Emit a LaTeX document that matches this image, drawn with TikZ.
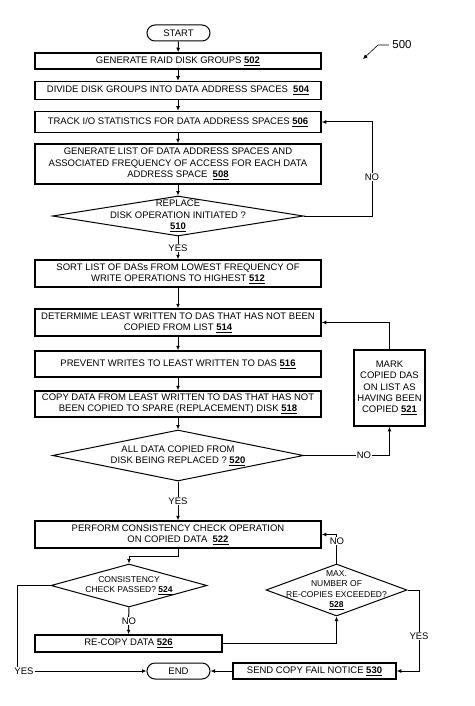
\documentclass[tikz,border=0pt]{standalone}
\usepackage{fontspec}
\setmainfont{Liberation Sans}
\usetikzlibrary{shapes.geometric, shapes.misc, arrows.meta}
\pgfdeclarelayer{bg}
\pgfsetlayers{bg,main}
\newcommand{\refnum}[1]{\textbf{\underline{#1}}}
\tikzset{
    every node/.style={font=\fontsize{9.5}{11.3}\selectfont, align=center},
    stepbox/.style={rectangle, draw, line width=1.5pt, inner sep=0pt},
    decision/.style={diamond, draw, line width=1pt, inner sep=0pt},
    term/.style={rounded rectangle, draw, line width=1pt, minimum width=63pt,
    	minimum height=16pt, inner sep=0pt},
    flow/.style={line width=1pt, -{Latex[length=4.5pt,width=4pt]}},
    lbl/.style={fill=white, inner sep=1pt},
    small/.style={font=\fontsize{8.5}{10.5}\selectfont}
}

\begin{document}
\begin{tikzpicture}[x=1pt, y=-1pt]
  \useasboundingbox (0,0) rectangle (474,706);

  \node (start) [term] at (178.5,33) {START};
  \node (b502) [stepbox, minimum width=286pt, minimum height=16pt] at (178,61)
  	{GENERATE RAID DISK GROUPS \refnum{502}};
  \node (b504) [stepbox, minimum width=286pt, minimum height=18pt] at (178,90.5)
  	{DIVIDE DISK GROUPS INTO DATA ADDRESS SPACES\ \ \refnum{504}};
  \node (b506) [stepbox, minimum width=286pt, minimum height=21pt] at (178,122)
  	{TRACK I/O STATISTICS FOR DATA ADDRESS SPACES \refnum{506}};
  \node (b508) [stepbox, minimum width=286pt, minimum height=40pt] at (178,164)
  	{GENERATE LIST OF DATA ADDRESS SPACES AND\\ASSOCIATED FREQUENCY OF ACCESS FOR EACH DATA\\ADDRESS SPACE\ \ \refnum{508}};
  \node (d510) [decision, minimum width=251pt, minimum height=40pt,
  	label={center:{REPLACE\\DISK OPERATION INITIATED ?\\\refnum{510}}}] at (178,216) {};
  \node (b512) [stepbox, minimum width=286pt, minimum height=27pt] at (178,273.5)
  	{SORT LIST OF DASs FROM LOWEST FREQUENCY OF\\WRITE OPERATIONS TO HIGHEST \refnum{512}};
  \node (b514) [stepbox, minimum width=286pt, minimum height=27pt] at (178,322.5)
  	{DETERMIME LEAST WRITTEN TO DAS THAT HAS NOT BEEN\\COPIED FROM LIST \refnum{514}};
  \node (b516) [stepbox, minimum width=286pt, minimum height=26pt] at (178,364)
  	{PREVENT WRITES TO LEAST WRITTEN TO DAS \refnum{516}};
  \node (b518) [stepbox, minimum width=286pt, minimum height=26pt] at (178,404)
  	{COPY DATA FROM LEAST WRITTEN TO DAS THAT HAS NOT\\BEEN COPIED TO SPARE (REPLACEMENT) DISK \refnum{518}};
  \node (d520) [decision, minimum width=251pt, minimum height=51pt,
  	label={center:{ALL DATA COPIED FROM\\DISK BEING REPLACED ? \refnum{520}}}] at (178,455.5) {};
  \node (b521) [stepbox, minimum width=71pt, minimum height=76pt] at (389.5,388)
  	{MARK\\COPIED DAS\\ON LIST AS\\HAVING BEEN\\COPIED \refnum{521}};
  \node (b522) [stepbox, minimum width=286pt, minimum height=27pt] at (178,534.5)
  	{PERFORM CONSISTENCY CHECK OPERATION\\ON COPIED DATA\ \ \refnum{522}};
  \node (d524) [decision, minimum width=156pt, minimum height=43pt,
  	label={[small]center:{CONSISTENCY\\CHECK PASSED? \refnum{524}}}] at (129,585.5) {};
  \node (d528) [decision, minimum width=141pt, minimum height=52pt,
  	label={[small]center:{MAX.\\NUMBER OF\\RE-COPIES EXCEEDED?\\\refnum{528}}}] at (336.5,590) {};
  \node (b526) [stepbox, minimum width=187pt, minimum height=17pt] at (128.5,643.5)
  	{RE-COPY DATA \refnum{526}};
  \node (b530) [stepbox, minimum width=163pt, minimum height=16pt] at (314.5,671)
  	{SEND COPY FAIL NOTICE \refnum{530}};
  \node (end) [term] at (178.5,671) {END};
  \node (n500) [font=\fontsize{11.5}{13}\selectfont] at (402,45) {500};

  \coordinate (c510) at (372,216);
  \coordinate (c506) at (372,122);
  \coordinate (c520) at (389.5,455.5);
  \coordinate (c521) at (389.5,322.5);
  \coordinate (c522a) at (178,556);
  \coordinate (c522b) at (129,556);
  \coordinate (c526) at (336.5,643.5);
  \coordinate (c528a) at (336.5,534.5);
  \coordinate (c528b) at (419,590);
  \coordinate (c528c) at (419,671);
  \coordinate (c524a) at (17,585.5);
  \coordinate (c524b) at (17,671);

  \node (no510) [lbl] at (372,177) {NO};
  \node (yes510) [lbl] at (178,248) {YES};
  \node (no520) [lbl] at (364,455.5) {NO};
  \node (yes520) [lbl] at (178,501) {YES};
  \node (no524) [lbl] at (129,621) {NO};
  \node (no528) [lbl] at (337,541) {NO};
  \node (yes528) [lbl] at (419,636) {YES};
  \node (yes524) [lbl] at (24,671) {YES};

  \begin{pgfonlayer}{bg}
	  \draw[flow] (start) -- (b502); \draw[flow] (b502) -- (b504);
	  \draw[flow] (b504) -- (b506); \draw[flow] (b506) -- (b508);
	  \draw[flow] (b508) -- (d510); \draw[flow] (d510) -- (b512);
	  \draw[flow] (b512) -- (b514); \draw[flow] (b514) -- (b516);
	  \draw[flow] (b516) -- (b518); \draw[flow] (b518) -- (d520);
	  \draw[flow] (d520) -- (b522); \draw[flow] (d524) -- (b526);
	  \draw[flow] (d510.east) -- (c510) -- (c506) -- (b506.east);
	  \draw[flow] (d520.east) -- (c520) -- (b521.south);
	  \draw[flow] (b521.north) -- (c521) -- (b514.east);
	  \draw[flow] (b522.south) -- (c522a) -- (c522b) -- (d524.north);
	  \draw[flow] (b526.east) -- (c526) -- (d528.south);
	  \draw[flow] (d528.north) -- (c528a) -- (b522.east);
	  \draw[flow] (d528.east) -- (c528b) -- (c528c) -- (b530.east);
	  \draw[flow] (b530.west) -- (end.east);
	  \draw[flow] (d524.west) -- (c524a) -- (c524b) -- (end.west);
	  \draw[flow, line width=0.6pt] (n500.west) -- (378,45) -- (363,59);
  \end{pgfonlayer}

\end{tikzpicture}
\end{document}
